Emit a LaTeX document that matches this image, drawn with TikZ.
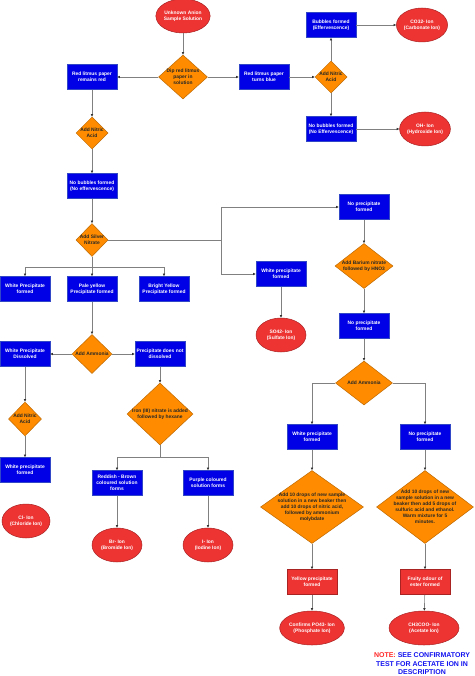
\documentclass[tikz,border=0pt]{standalone}
\usepackage{fontspec}
\setmainfont{Liberation Sans}
\usetikzlibrary{shapes.geometric,arrows.meta}
\definecolor{bfill}{RGB}{0,0,230}
\definecolor{bdraw}{RGB}{50,70,200}
\definecolor{ofill}{RGB}{255,140,0}
\definecolor{odraw}{RGB}{190,105,0}
\definecolor{rfill}{RGB}{238,51,51}
\definecolor{rdraw}{RGB}{170,35,35}
\definecolor{lgray}{RGB}{128,128,128}
\definecolor{notered}{RGB}{255,40,40}
\definecolor{noteblue}{RGB}{20,20,240}
\tikzset{
  txt/.style={font=\bfseries\fontsize{4.9}{6}\selectfont, align=center},
  box/.style={txt, rectangle, fill=bfill, draw=bdraw, line width=0.5pt, text=white,
     minimum width=50, minimum height=25, inner sep=0.5pt},
  rbox/.style={box, fill=rfill, draw=rdraw},
  ell/.style={txt, ellipse, fill=rfill, draw=rdraw, line width=0.5pt, text=white,
     minimum width=#1, minimum height=34, inner sep=0pt},
  ell/.default=50,
  dia/.style n args={2}{diamond, fill=ofill, draw=odraw, line width=0.5pt,
     minimum width=#1, minimum height=#2, inner sep=0pt},
  dtext/.style={txt, text=black!85},
  conn/.style={draw=lgray, line width=0.6pt, -{Triangle[length=2.6pt,width=2.2pt,color=black!80]}},
  plain/.style={draw=lgray, line width=0.6pt},
}
\begin{document}
\begin{tikzpicture}[x=1pt,y=-1pt]
\useasboundingbox[fill=white] (0,0) rectangle (474,676);
% top
\node[ell] (e1) at (183,16) {Unknown Anion\\Sample Solution};
\node[dia={49}{44}, label={[dtext]center:Dip red litmus\\paper in\\solution}] (d1) at (183,77) {};
\node[box] (b1) at (92,77) {Red litmus paper\\remains red};
\node[box] (b2) at (264,77) {Red litmus paper\\turns blue};
\node[dia={32}{32}, label={[dtext]center:Add Nitric\\Acid}] (d2) at (331,77) {};
\node[box] (b3) at (331,25) {Bubbles formed\\(Effervescence)};
\node[box] (b4) at (331,129) {No bubbles formed\\(No Effervescence)};
\node[ell] (e2) at (422,25) {CO32- Ion\\(Carbonate Ion)};
\node[ell] (e3) at (425,129) {OH- Ion\\(Hydroxide Ion)};
% left column
\node[dia={32}{32}, label={[dtext]center:Add Nitric\\Acid}] (d3) at (92,133) {};
\node[box] (b5) at (92,186) {No bubbles formed\\(No effervescence)};
\node[dia={32}{33}, label={[dtext]center:Add Silver\\Nitrate}] (d4) at (92,240) {};
\node[box] (b6) at (25,289) {White Precipitate\\formed};
\node[box] (b7) at (92,289) {Pale yellow\\Precipitate formed};
\node[box] (b8) at (164,289) {Bright Yellow\\Precipitate formed};
\coordinate (j1) at (92,267);
\coordinate (j2) at (221,240);
% right middle
\node[box] (b9) at (364,207) {No precipitate\\formed};
\node[box] (b10) at (281,274) {White precipitate\\formed};
\node[ell] (e4) at (281,335) {SO42- Ion\\(Sulfate Ion)};
\node[dia={58}{45}, label={[dtext]center:Add Barium nitrate\\followed by HNO3}] (d5) at (364,266) {};
\node[box] (b11) at (364,326) {No precipitate\\formed};
\node[dia={57}{44}, label={[dtext]center:Add Ammonia}] (d6) at (364,383) {};
\node[box] (b12) at (312,437) {White precipitate\\formed};
\node[box] (b13) at (425,437) {No precipitate\\formed};
\node[dia={103}{73}, label={[dtext]center:Add 10 drops of new sample\\solution in a new beaker then\\add 10 drops of nitric acid,\\followed by ammonium\\molybdate}] (d7) at (312,507) {};
\node[dia={97}{73}, label={[dtext]center:Add 10 drops of new\\sample solution in a new\\beaker then add 5 drops of\\sulfuric acid and ethanol.\\Warm mixture for 5\\minutes.}] (d8) at (425,507) {};
\node[rbox] (r1) at (312,582) {Yellow precipitate\\formed};
\node[rbox] (r2) at (425,582) {Fruity odour of\\ester formed};
\node[ell] (e5) at (312,628) {Confirms PO43- Ion\\(Phosphate Ion)};
\node[ell=70] (e6) at (424,628) {CH3COO- Ion\\(Acetate Ion)};
\node[font=\bfseries\fontsize{7}{8.5}\selectfont, align=center, text=noteblue] (note) at (422,664)
  {\textcolor{notered}{NOTE:} SEE CONFIRMATORY\\TEST FOR ACETATE ION IN\\DESCRIPTION};
% left lower
\node[dia={40}{39}, label={[dtext]center:Add Ammonia}] (d9) at (92,354) {};
\node[box] (b14) at (25,354) {White Precipitate\\Dissolved};
\node[box] (b15) at (160,354) {Precipitate does not\\dissolved};
\node[dia={33}{34}, label={[dtext]center:Add Nitric\\Acid}] (d10) at (25,419) {};
\node[box] (b16) at (25,470) {White precipitate\\formed};
\node[ell=48] (e7) at (26,521) {Cl- Ion\\(Chloride Ion)};
\node[dia={66}{62}, label={[dtext]center:Iron (III) nitrate is added\\followed by hexane}] (d11) at (160,414) {};
\node[box] (b17) at (117,483) {Reddish - Brown\\coloured solution\\forms};
\node[box] (b18) at (208,483) {Purple coloured\\solution forms};
\node[ell] (e8) at (117,545) {Br- Ion\\(Bromide Ion)};
\node[ell] (e9) at (208,545) {I- Ion\\(Iodine Ion)};
\coordinate (j3) at (160,457);
% connectors
\draw[conn] (e1) -- (d1);
\draw[conn] (d1) -- (b1);
\draw[conn] (d1) -- (b2);
\draw[conn] (b2) -- (d2);
\draw[conn] (d2) -- (b3);
\draw[conn] (d2) -- (b4);
\draw[conn] (b3) -- (e2);
\draw[conn] (b4) -- (e3);
\draw[conn] (b1) -- (d3);
\draw[conn] (d3) -- (b5);
\draw[conn] (b5) -- (d4);
\draw[plain] (d4.south) -- (j1);
\draw[conn] (j1) -| (b6.north);
\draw[conn] (j1) -- (b7.north);
\draw[conn] (j1) -| (b8.north);
\draw[plain] (d4.east) -- (j2);
\draw[conn] (j2) |- (b9.west);
\draw[conn] (j2) |- (b10.west);
\draw[conn] (b10) -- (e4);
\draw[conn] (b9) -- (d5);
\draw[conn] (d5) -- (b11);
\draw[conn] (b11) -- (d6);
\draw[conn] (d6.west) -| (b12.north);
\draw[conn] (d6.east) -| (b13.north);
\draw[conn] (b12) -- (d7);
\draw[conn] (b13) -- (d8);
\draw[conn] (d7) -- (r1);
\draw[conn] (d8) -- (r2);
\draw[conn] (r1) -- (e5);
\draw[conn] (r2) -- (e6);
\draw[conn] (b7) -- (d9);
\draw[conn] (d9) -- (b14);
\draw[conn] (d9) -- (b15);
\draw[conn] (b14) -- (d10);
\draw[conn] (d10) -- (b16);
\draw[conn] (b15) -- (d11);
\draw[plain] (d11.south) -- (j3);
\draw[conn] (j3) -| (b17.north);
\draw[conn] (j3) -| (b18.north);
\draw[conn] (b17) -- (e8);
\draw[conn] (b18) -- (e9);
\end{tikzpicture}
\end{document}
